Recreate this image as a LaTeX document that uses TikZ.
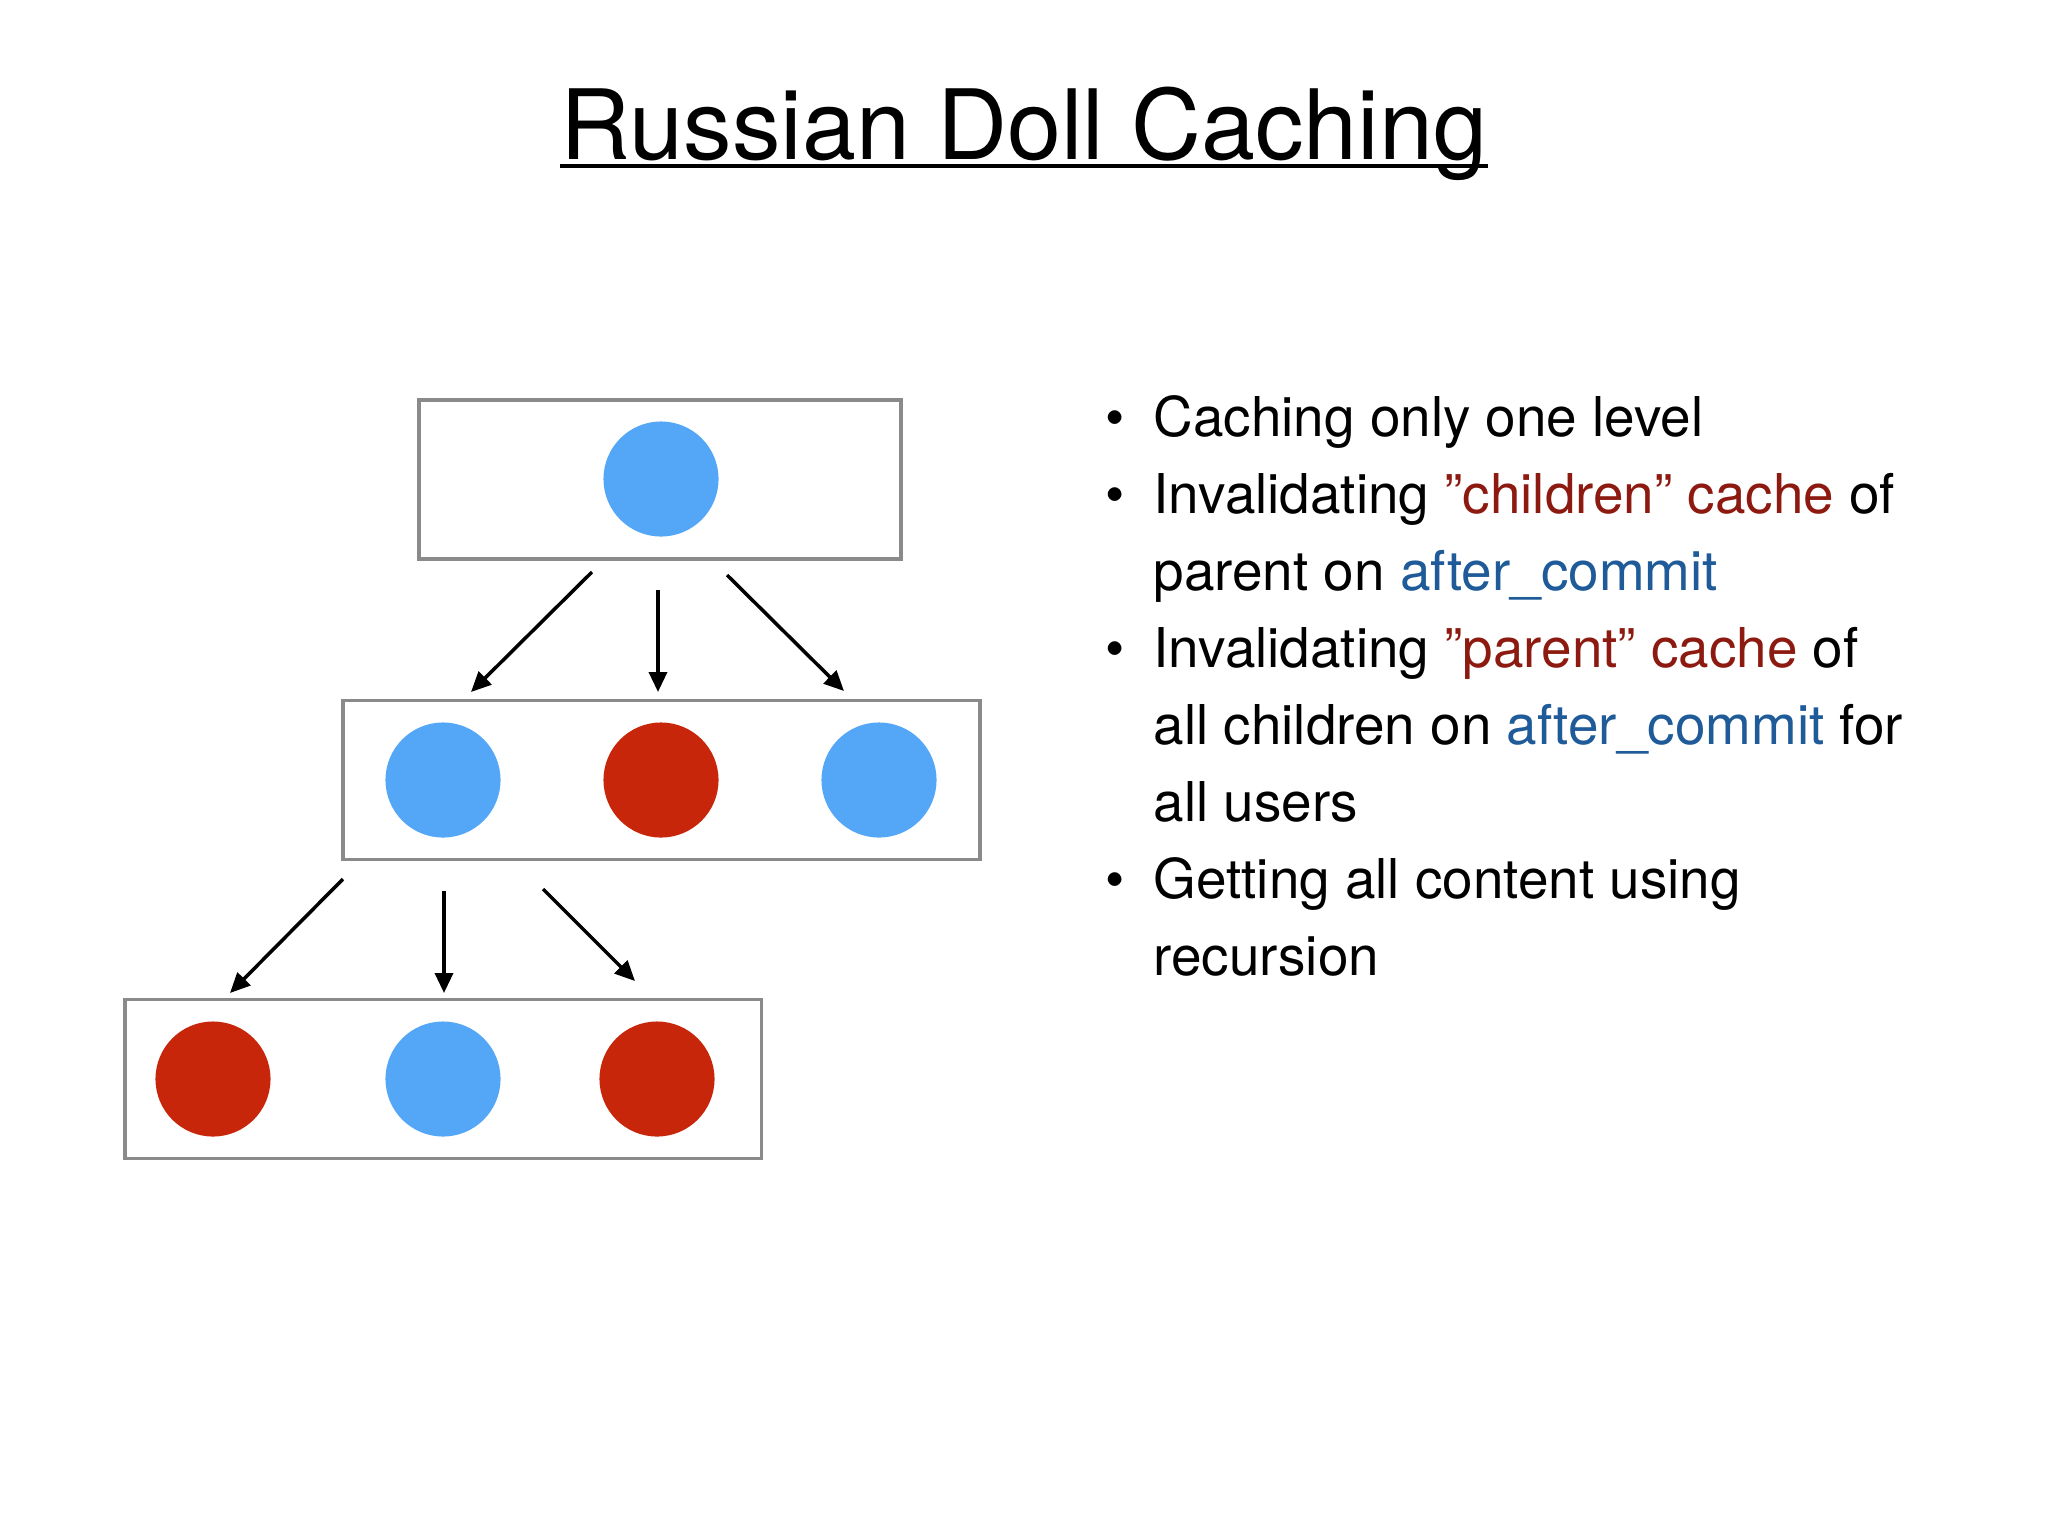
\documentclass[tikz,border=0pt]{standalone}
\usepackage{fontspec}
\setmainfont{TeX Gyre Heros}
\usetikzlibrary{positioning, arrows.meta}

\definecolor{dollblue}{HTML}{54A6F7}
\definecolor{dollred}{HTML}{C8260B}
\definecolor{notered}{HTML}{8C1A10}
\definecolor{noteblue}{HTML}{1F5B98}
\definecolor{boxgray}{HTML}{8A8A8A}

\tikzset{
  cachebox/.style={draw=boxgray, line width=0.035cm, minimum height=1.59cm, inner sep=0pt},
  doll/.style={circle, minimum size=1.15cm, inner sep=0pt},
  fresh/.style={doll, fill=dollblue},
  stale/.style={doll, fill=dollred},
  link/.style={->, line width=0.035cm},
  note/.style={anchor=base west, inner sep=0pt, font=\fontsize{15.6}{18}\selectfont},
  dot/.style={anchor=base, inner sep=0pt, font=\fontsize{15.6}{18}\selectfont}
}

\begin{document}
\begin{tikzpicture}[x=0.01cm, y=-0.01cm, >={Triangle[length=0.2cm,width=0.18cm]}]
    \useasboundingbox (0,0) rectangle (2048,1536);

    % title
    \node (title) [anchor=base, inner sep=0pt, font=\fontsize{27.6}{33}\selectfont] at (1024,159) {Russian Doll Caching};
    \draw [line width=0.04cm] ([yshift=-0.07cm]title.base west) -- ([yshift=-0.07cm]title.base east);

    % nested cache levels
    \node (parentbox) [cachebox, minimum width=4.82cm] at (660,479.5) {};
    \node (childbox) [below=1.38cm of parentbox, xshift=0.015cm, cachebox, minimum width=6.37cm] {};
    \node (grandbox) [below left=1.36cm and -4.22cm of childbox, cachebox, minimum width=6.36cm] {};

    \node (parent) [fresh] at (661,479) {};
    \node (childa) [fresh] at (443,780) {};
    \node (childb) [stale] at (661,780) {};
    \node (childc) [fresh] at (879,780) {};
    \node (granda) [stale] at (213,1079) {};
    \node (grandb) [fresh] at (443,1079) {};
    \node (grandc) [stale] at (657,1079) {};

    % arrow ends
    \coordinate (pa) at (592,572);  \coordinate (ca) at (471,692);
    \coordinate (pb) at (658,590);  \coordinate (cb) at (658,692);
    \coordinate (pc) at (727,575);  \coordinate (cc) at (844,691);
    \coordinate (qa) at (343,879);  \coordinate (ga) at (230,993);
    \coordinate (qb) at (444,891);  \coordinate (gb) at (444,993);
    \coordinate (qc) at (543,889);  \coordinate (gc) at (635,981);

    \draw [link] (pa) -- (ca);
    \draw [link] (pb) -- (cb);
    \draw [link] (pc) -- (cc);
    \draw [link] (qa) -- (ga);
    \draw [link] (qb) -- (gb);
    \draw [link] (qc) -- (gc);

    % notes
    \node (dota) [dot] at (1115,436) {•};
    \node (dotb) [dot] at (1115,513) {•};
    \node (dotc) [dot] at (1115,667) {•};
    \node (dotd) [dot] at (1115,898) {•};

    \node (linea) [note] at (1153,436) {Caching only one level};
    \node (lineb) [note] at (1153,513) {Invalidating \textcolor{notered}{”children” cache} of};
    \node (linec) [note] at (1153,590) {parent on \textcolor{noteblue}{after\_commit}};
    \node (lined) [note] at (1153,667) {Invalidating \textcolor{notered}{”parent” cache} of};
    \node (linee) [note] at (1153,744) {all children on \textcolor{noteblue}{after\_commit} for};
    \node (linef) [note] at (1153,821) {all users};
    \node (lineg) [note] at (1153,898) {Getting all content using};
    \node (lineh) [note] at (1153,975) {recursion};
\end{tikzpicture}
\end{document}
